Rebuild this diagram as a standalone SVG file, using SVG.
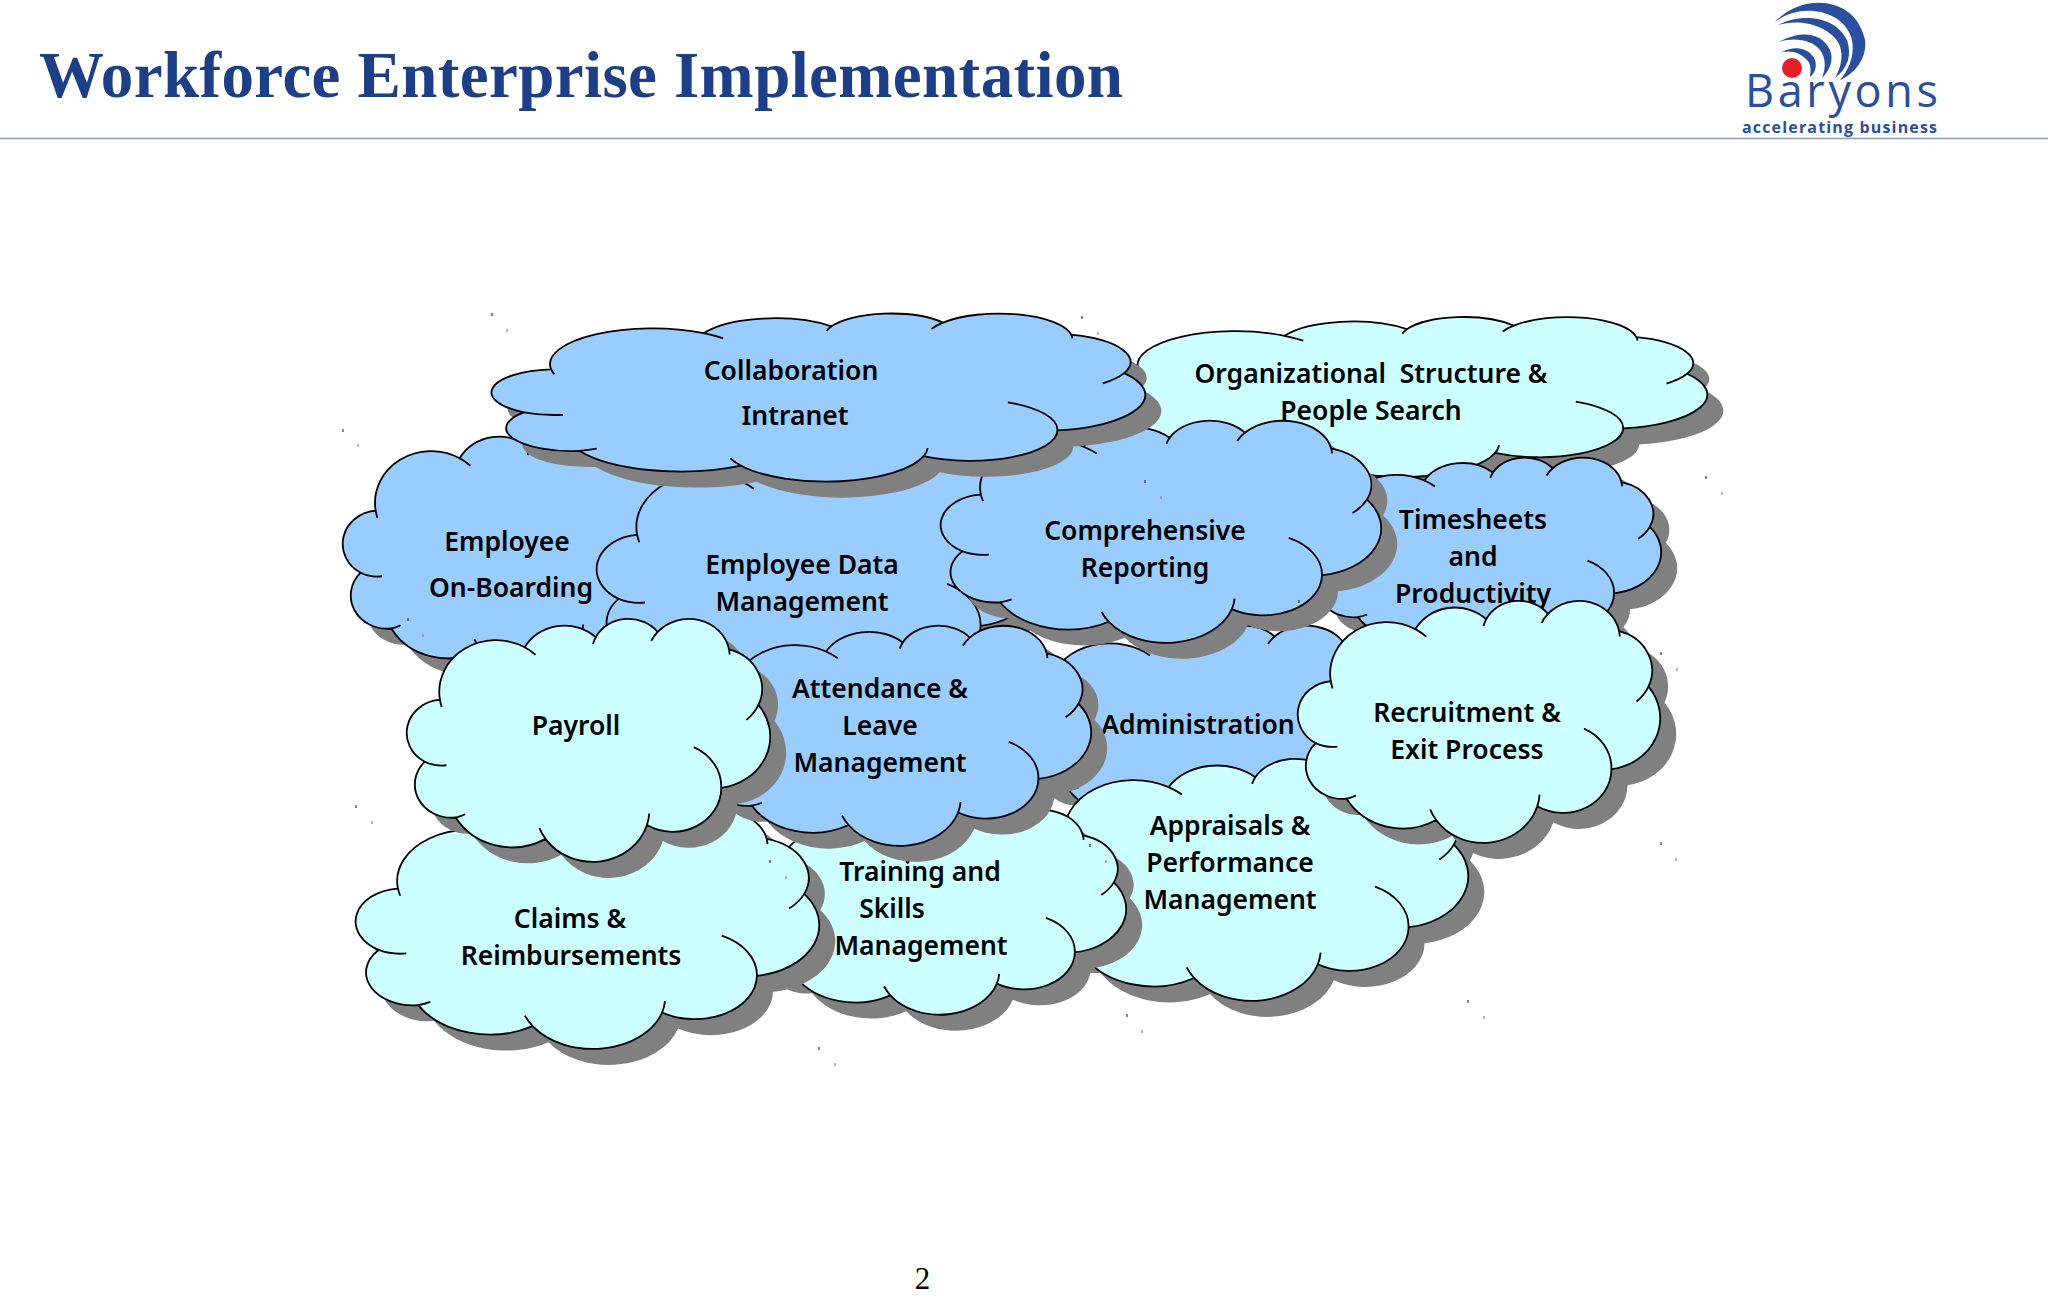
<svg xmlns="http://www.w3.org/2000/svg" width="2048" height="1303" viewBox="0 0 2048 1303">
<style>
#cl,#in{vector-effect:non-scaling-stroke}
.sh{fill:#808080;stroke:none}
.b{fill:#99CCFF;stroke:#000;stroke-width:1.8;stroke-linejoin:round}
.c{fill:#CCFFFF;stroke:#000;stroke-width:1.8;stroke-linejoin:round}
.i{fill:none;stroke:#000;stroke-width:1.8}
.s{fill:none;stroke:#333;stroke-width:1.2}
.s2{fill:none;stroke:#888;stroke-width:1.2}
text{font-family:"Noto Sans","Open Sans",sans-serif;font-weight:600;font-size:26.500px;fill:#000;text-anchor:middle;white-space:pre}
</style>
<defs>
<path id="cl" d="M3900 14370A6753 9190 0 0 1 14005 5202A5333 7267 0 0 1 22456 3433A4365 5945 0 0 1 29834 2482A4857 6595 0 0 1 38320 5577A5333 7273 0 0 1 41820 15462A6775 9220 0 0 1 37405 30204A5785 7867 0 0 1 28556 36815A6752 9215 0 0 1 16480 39265A7720 10543 0 0 1 5803 35470A4360 5918 0 0 1 2112 25547A4345 5945 0 0 1 3862 14504Z"/>
<path id="in" d="M4693 26177A4345 5945 0 0 1 2112 25547M6928 34899A4360 5918 0 0 1 5803 35470M16480 39265A6752 9215 0 0 1 15768 37360M28827 34751A6752 9215 0 0 1 28556 36815M34129 22954A5785 7867 0 0 1 37405 30204M41820 15462A5333 7273 0 0 1 40400 18105M38320 5577A4857 6595 0 0 1 38394 6500M29078 4080A4857 6595 0 0 1 29834 2482M22141 4620A4365 5945 0 0 1 22456 3433M14005 5202A6753 9190 0 0 1 15293 6533M4127 15796A6753 9190 0 0 1 3900 14370"/>
</defs>
<rect width="2048" height="1303" fill="#fff"/>
<g id="header">
<text x="39" y="97" style="font-family:'Liberation Serif',serif;font-weight:700;font-size:65px;fill:#1C3F87;text-anchor:start" textLength="1084" lengthAdjust="spacing">Workforce Enterprise Implementation</text>
<path d="M0 138.500H2048" stroke="#8D9BBF" stroke-width="1.500"/>
</g>
<g id="logo">
<g fill="#2A4F9F">
<path d="M1775 22C1800 -6 1855 -6 1865 40C1867 55 1858 72 1840 80C1852 66 1856 48 1850 34C1840 10 1800 2 1775 22Z"/>
<path d="M1778 25C1800 13 1835 15 1847 40C1852 55 1848 68 1835 78C1842 66 1844 52 1838 42C1828 26 1800 18 1778 25Z"/>
<path d="M1779 42C1800 30 1822 32 1830 50C1834 60 1830 70 1822 78C1826 68 1826 58 1820 50C1812 40 1795 37 1779 42Z"/>
<path d="M1782 52C1795 45 1810 48 1815 60C1817 67 1815 73 1810 77C1811 70 1811 64 1807 60C1801 53 1792 50 1782 52Z"/>
</g>
<circle cx="1792" cy="68" r="10" fill="#E3202A"/>
<text x="1745" y="107" style="font-family:'Open Sans',sans-serif;font-weight:400;font-size:45px;fill:#2A4F9F;text-anchor:start" textLength="193" lengthAdjust="spacing">Baryons</text>
<text x="1742" y="133" style="font-family:'Open Sans',sans-serif;font-weight:700;font-size:16px;fill:#2A4F9F;text-anchor:start" textLength="195" lengthAdjust="spacing">accelerating business</text>
</g>
<g id="org-structure">
<path class="s" d="M1082 316v3M1706 476v3"/><path class="s2" d="M1098 332v3M1722 492v3"/>
<g transform="translate(1098 332.500) scale(.014468 .003704)"><use href="#cl" class="sh"/></g>
<g transform="translate(1082 316.500) scale(.014468 .003704)"><use href="#cl" class="c"/><use href="#in" class="i"/></g>
<text x="1371" y="383">Organizational  Structure &amp;</text><text x="1371" y="420">People Search</text>
</g>
<g id="timesheets">
<g transform="translate(1327 473) scale(.008102 .004514)"><use href="#cl" class="sh"/></g>
<g transform="translate(1311 457) scale(.008102 .004514)"><use href="#cl" class="b"/><use href="#in" class="i"/></g>
<path class="s" d="M1661 652v3"/><path class="s2" d="M1677 668v3"/>
<text x="1473" y="529">Timesheets</text><text x="1473" y="566">and</text><text x="1473" y="603">Productivity</text>
</g>
<g id="administration">
<g transform="translate(1035 641) scale(.008565 .004653)"><use href="#cl" class="sh"/></g>
<g transform="translate(1019 625) scale(.008565 .004653)"><use href="#cl" class="b"/><use href="#in" class="i"/></g>
<text x="1198" y="734">Administration</text>
</g>
<g id="employee-onboarding">
<path class="s" d="M343 429v3"/><path class="s2" d="M358 444v3"/>
<g transform="translate(359 445) scale(.008333 .005625)"><use href="#cl" class="sh"/></g>
<g transform="translate(343 429) scale(.008333 .005625)"><use href="#cl" class="b"/><use href="#in" class="i"/></g>
<text x="507" y="551">Employee</text><text x="511" y="597">On-Boarding</text>
</g>
<g id="employee-data">
<g transform="translate(613 467) scale(.010255 .005787)"><use href="#cl" class="sh"/></g>
<g transform="translate(597 451) scale(.010255 .005787)"><use href="#cl" class="b"/><use href="#in" class="i"/></g>
<text x="802" y="574">Employee Data</text><text x="802" y="611">Management</text>
</g>
<g id="comprehensive-reporting">
<g transform="translate(957 436) scale(.010185 .005139)"><use href="#cl" class="sh"/></g>
<g transform="translate(941 420) scale(.010185 .005139)"><use href="#cl" class="b"/><use href="#in" class="i"/></g>
<text x="1145" y="540">Comprehensive</text><text x="1145" y="577">Reporting</text>
</g>
<g id="collaboration-intranet">
<g transform="translate(508 329) scale(.015116 .003889)"><use href="#cl" class="sh"/></g>
<g transform="translate(492 313) scale(.015116 .003889)"><use href="#cl" class="b"/><use href="#in" class="i"/></g>
<path class="s" d="M492 313v3M1145 480v3"/><path class="s2" d="M507 329v3M1161 496v3"/>
<text x="791" y="380">Collaboration</text><text x="795" y="425">Intranet</text>
</g>
<g id="appraisals">
<g transform="translate(1041 774) scale(.010255 .005602)"><use href="#cl" class="sh"/></g>
<g transform="translate(1025 758) scale(.010255 .005602)"><use href="#cl" class="c"/><use href="#in" class="i"/></g>
<path class="s" d="M1468 1000v3"/><path class="s2" d="M1484 1016v3"/>
<text x="1230" y="835">Appraisals &amp;</text><text x="1230" y="872">Performance</text><text x="1230" y="909">Management</text>
</g>
<g id="training">
<g transform="translate(761 825) scale(.008819 .004745)"><use href="#cl" class="sh"/></g>
<g transform="translate(745 809) scale(.008819 .004745)"><use href="#cl" class="c"/><use href="#in" class="i"/></g>
<path class="s" d="M1127 1014v3"/><path class="s2" d="M1142 1030v3"/>
<text x="920" y="881">Training and</text><text x="892" y="918">Skills</text><text x="921" y="955">Management</text>
</g>
<g id="claims">
<g transform="translate(372 824) scale(.010718 .005556)"><use href="#cl" class="sh"/></g>
<g transform="translate(356 808) scale(.010718 .005556)"><use href="#cl" class="c"/><use href="#in" class="i"/></g>
<path class="s" d="M356 805v3M819 1047v3"/><path class="s2" d="M372 821v3M835 1063v3"/>
<text x="570" y="928">Claims &amp;</text><text x="571" y="965">Reimbursements</text>
</g>
<g id="attendance">
<g transform="translate(715 641) scale(.009074 .005093)"><use href="#cl" class="sh"/></g>
<g transform="translate(699 625) scale(.009074 .005093)"><use href="#cl" class="b"/><use href="#in" class="i"/></g>
<path class="s" d="M1090 844v3"/><path class="s2" d="M1106 860v3"/>
<text x="880" y="698">Attendance &amp;</text><text x="880" y="735">Leave</text><text x="880" y="772">Management</text>
</g>
<g id="payroll">
<g transform="translate(423 634) scale(.008403 .005625)"><use href="#cl" class="sh"/></g>
<g transform="translate(407 618) scale(.008403 .005625)"><use href="#cl" class="c"/><use href="#in" class="i"/></g>
<path class="s" d="M408 618v3M770 860v3"/><path class="s2" d="M423 634v3M786 876v3"/>
<text x="576" y="735">Payroll</text>
</g>
<g id="recruitment">
<g transform="translate(1314 616) scale(.008380 .005602)"><use href="#cl" class="sh"/></g>
<g transform="translate(1298 600) scale(.008380 .005602)"><use href="#cl" class="c"/><use href="#in" class="i"/></g>
<path class="s" d="M1299 600v3M1661 842v3"/><path class="s2" d="M1315 616v3M1676 858v3"/>
<text x="1467" y="722">Recruitment &amp;</text><text x="1467" y="759">Exit Process</text>
</g>
<g id="connectors"/>
<text x="922.500" y="1289" style="font-family:'Liberation Serif',serif;font-weight:400;font-size:31px;fill:#000">2</text>
</svg>
